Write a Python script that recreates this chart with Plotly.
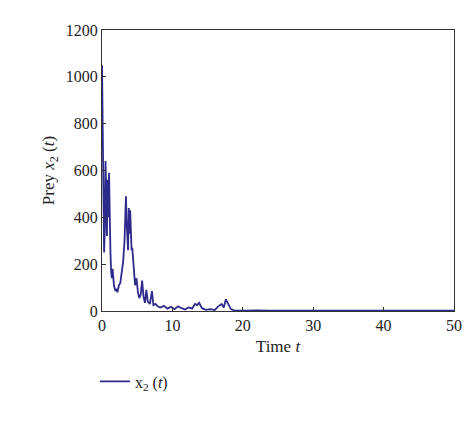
import plotly.graph_objects as go

t = [0, 0.1, 0.2, 0.3, 0.4, 0.5, 0.6, 0.7, 0.8, 0.9, 1.0, 1.1, 1.2, 1.3, 1.4, 1.5, 1.7, 1.9, 2.0, 2.2, 2.4, 2.6, 2.8, 3.0,
     3.2, 3.4, 3.5, 3.6, 3.7, 3.8, 3.9, 4.0, 4.1, 4.2, 4.3, 4.5, 4.7, 4.9, 5.1, 5.3, 5.5, 5.7, 5.9, 6.1, 6.3, 6.5,
     6.8, 7.1, 7.3, 7.6, 7.9, 8.3, 8.8, 9.3, 9.8, 10.3, 10.8, 11.3, 11.8, 12.3, 12.8, 13.2, 13.5, 13.8, 14.2,
     14.8, 15.4, 16.0, 16.5, 17.0, 17.3, 17.6, 17.9, 18.3, 18.8, 19.5, 20.5, 22, 24, 27, 30, 35, 40, 45, 50]
x2 = [1050, 700, 420, 250, 350, 640, 500, 320, 560, 400, 590, 330, 250, 170, 140, 180, 110, 85, 95, 80, 110, 120, 170, 210,
      300, 490, 380, 320, 260, 440, 330, 430, 300, 260, 270, 170, 110, 140, 80, 55, 70, 130, 60, 35, 90, 40,
      30, 85, 25, 30, 20, 15, 22, 10, 18, 8, 20, 12, 6, 15, 10, 30, 25, 35, 12,
      5, 8, 4, 20, 30, 15, 50, 30, 8, 3, 2, 1, 3, 1, 2, 1, 1, 1, 1, 1]

fig = go.Figure(go.Scatter(x=t, y=x2, mode="lines", line=dict(color="#2e2a8c", width=1.8), name="x<sub>2</sub> (<i>t</i>)"))
ax = dict(showline=True, mirror=True, linecolor="#333", linewidth=1, ticks="inside", ticklen=4, tickcolor="#333",
          showgrid=False, zeroline=False, tickfont=dict(family="Liberation Serif", size=16, color="#222"))
fig.update_layout(
    width=474, height=425, plot_bgcolor="white", paper_bgcolor="white",
    margin=dict(l=94, r=28, t=22, b=122),
    font=dict(family="Liberation Serif", size=16, color="#222"),
    xaxis=dict(range=[0, 50], dtick=10, title=dict(text="Time <i>t</i>", standoff=6, font=dict(size=17)), **ax),
    yaxis=dict(range=[0, 1200], dtick=200, title=dict(text="Prey <i>x</i><sub>2</sub> (<i>t</i>)", standoff=6, font=dict(size=17)), **ax),
    showlegend=True,
    legend=dict(x=-0.02, y=-0.19, xanchor="left", yanchor="top", font=dict(size=16)),
)
fig.write_html("out.html")
